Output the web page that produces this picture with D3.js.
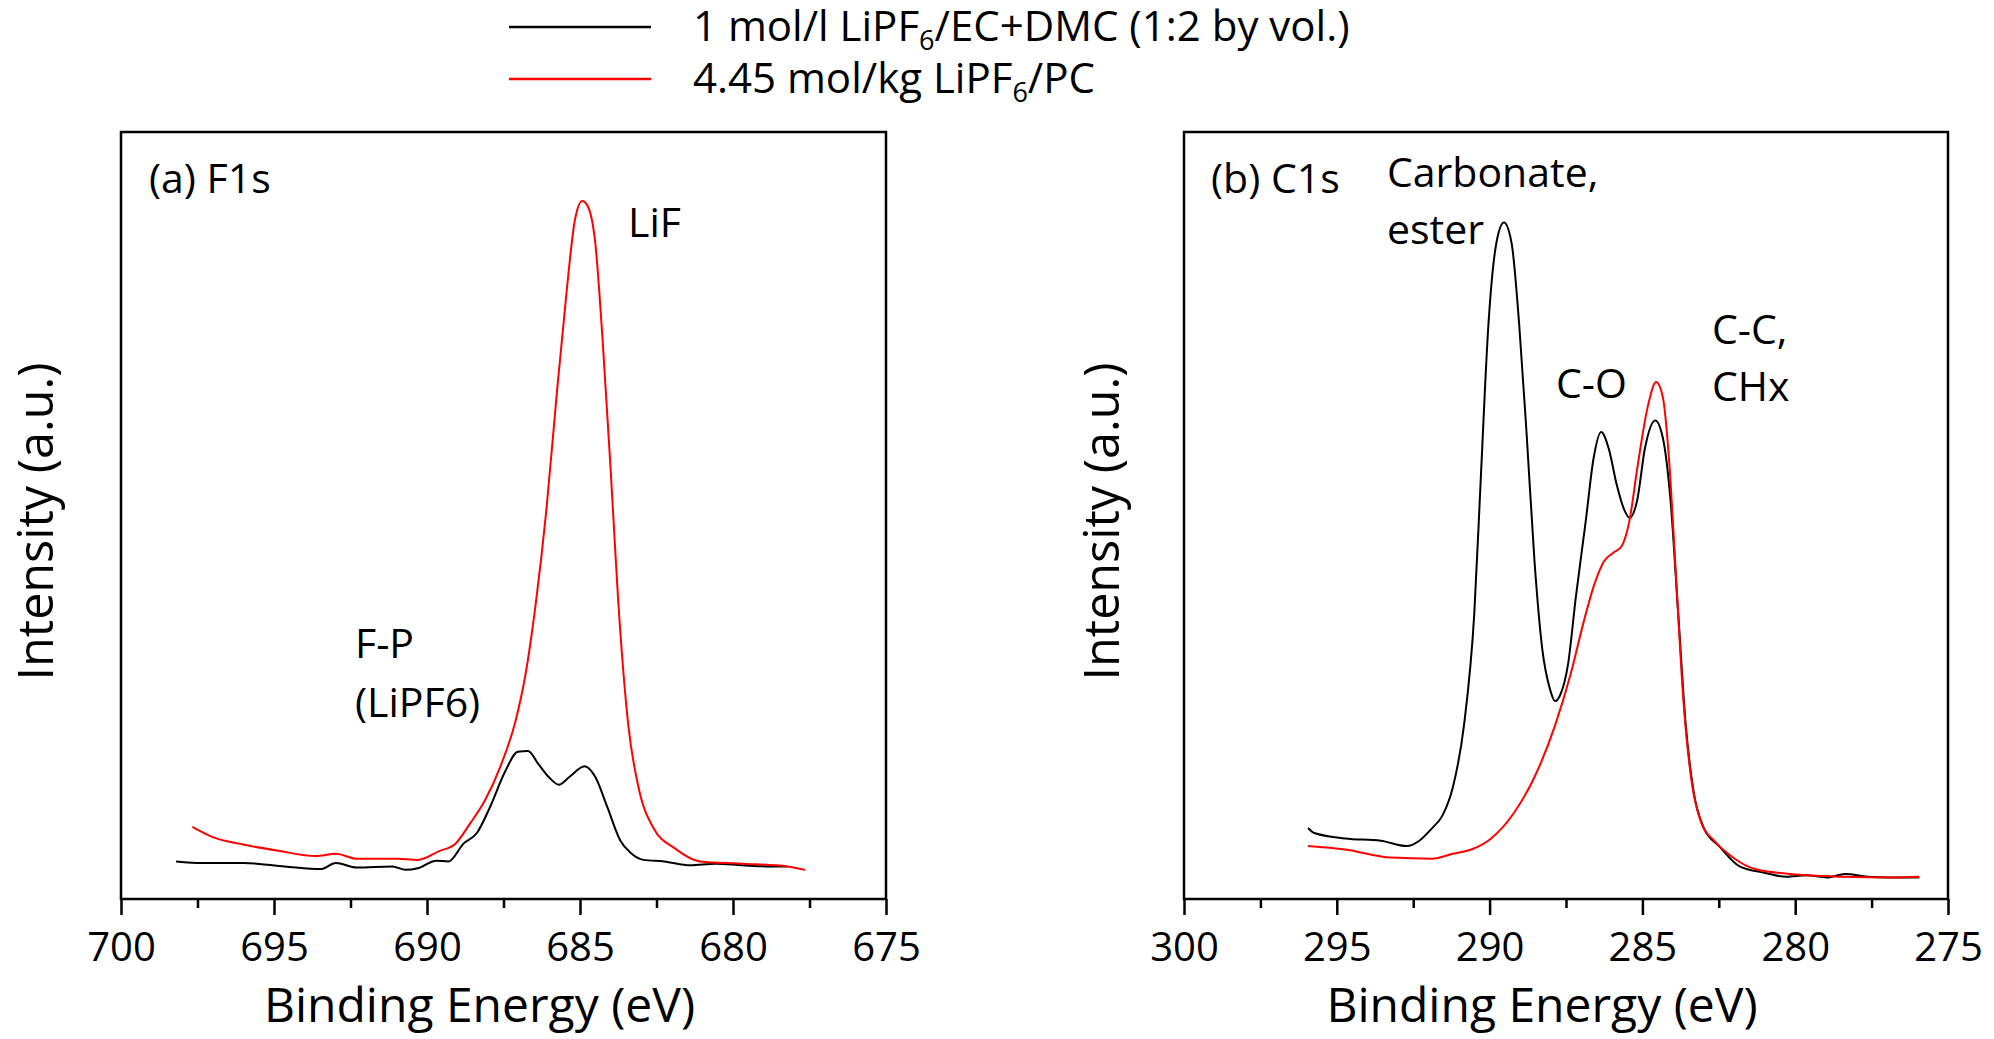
<!DOCTYPE html>
<html>
<head>
<meta charset="utf-8">
<script src="https://cdn.jsdelivr.net/npm/d3@7"></script>
<style>
  body { margin: 0; background: #fff; }
  svg text { font-family: "Open Sans", sans-serif; fill: #000; }
</style>
</head>
<body>
<div class="chart"></div>
<script>
// series: [binding energy (eV), intensity (a.u., 0-100 of frame height)]
var f1sEC = [
  [698.2, 4.9], [697.33, 4.7], [696.0, 4.7], [694.65, 4.25], [693.48, 3.9], [692.98, 4.7],
  [692.3, 4.1], [691.13, 4.25], [690.7, 3.8], [690.3, 4.0], [689.7, 5.0], [689.3, 4.9],
  [688.8, 7.25], [688.37, 8.6], [687.95, 11.9], [687.45, 16.6], [687.03, 19.2], [686.7, 19.3],
  [686.36, 17.6], [686.02, 15.9], [685.69, 14.9], [685.35, 15.9], [684.85, 17.3], [684.5, 15.9],
  [684.1, 11.9], [683.68, 7.6], [683.34, 6.0], [682.92, 5.1], [682.25, 4.9], [681.4, 4.4],
  [680.57, 4.6], [679.7, 4.4], [678.9, 4.25], [678.23, 4.25]
]
var f1sPC = [
  [697.67, 9.4], [697.0, 8.06], [696.0, 7.1], [694.8, 6.25], [693.65, 5.6], [692.98, 5.9],
  [692.3, 5.25], [690.97, 5.25], [690.3, 5.1], [689.6, 6.25], [689.1, 7.1], [688.6, 9.8],
  [688.1, 12.9], [687.6, 17.3], [687.1, 23.3], [686.78, 29.3], [686.44, 38.7], [686.1, 50.7],
  [685.77, 65.4], [685.43, 79.5], [685.18, 88.2], [684.93, 91.0], [684.77, 90.5], [684.5, 85.5],
  [684.26, 72.8], [684.0, 56.1], [683.76, 39.4], [683.42, 22.6], [683.09, 14.6], [682.6, 9.25],
  [681.9, 6.6], [681.08, 4.9], [679.7, 4.6], [678.23, 4.25], [677.64, 3.8]
]
var c1sEC = [
  [295.94, 9.25], [295.74, 8.6], [294.73, 7.9], [293.56, 7.6], [292.72, 6.9], [292.3, 7.6],
  [291.88, 9.25], [291.54, 10.9], [291.2, 14.6], [290.84, 22.6], [290.5, 37.3], [290.29, 54.7],
  [290.04, 74.8], [289.78, 85.5], [289.53, 88.2], [289.28, 85.5], [289.03, 74.8], [288.78, 60.1],
  [288.53, 44.0], [288.28, 32.7], [288.02, 27.3], [287.86, 25.8], [287.69, 26.6], [287.43, 30.7],
  [287.18, 39.3], [286.85, 49.4], [286.6, 57.4], [286.35, 60.9], [286.1, 58.7], [285.84, 54.0],
  [285.59, 50.7], [285.42, 49.7], [285.17, 52.0], [284.92, 58.7], [284.58, 62.4], [284.33, 60.1],
  [284.08, 52.0], [283.83, 37.3], [283.58, 22.6], [283.32, 13.9], [282.99, 9.25], [282.49, 6.9],
  [281.82, 4.25], [280.98, 3.4], [280.3, 2.9], [279.63, 3.1], [278.96, 2.8], [278.37, 3.25],
  [277.62, 2.9], [276.95, 2.8], [275.94, 2.8]
]
var c1sPC = [
  [295.94, 6.9], [294.73, 6.45], [293.23, 5.4], [291.88, 5.25], [291.2, 5.9], [290.6, 6.45],
  [289.95, 7.9], [289.2, 11.25], [288.53, 15.9], [287.86, 22.6], [287.35, 29.3], [286.93, 36.0],
  [286.6, 40.7], [286.26, 44.0], [285.93, 45.2], [285.68, 46.0], [285.42, 49.4], [285.17, 56.1],
  [284.83, 64.1], [284.55, 67.4], [284.33, 65.4], [284.13, 57.4], [283.91, 42.7], [283.66, 26.0],
  [283.41, 15.9], [283.07, 9.9], [282.65, 7.6], [281.98, 5.25], [281.31, 3.9], [280.14, 3.25],
  [278.46, 2.9], [276.78, 2.8], [275.94, 2.9]
]

var f1sTicks = [700, 695, 690, 685, 680, 675]
var c1sTicks = [300, 295, 290, 285, 280, 275]
var seriesNames = ['1 mol/l LiPF|6|/EC+DMC (1:2 by vol.)', '4.45 mol/kg LiPF|6|/PC']
var seriesColors = ['#000000', '#ff0000']

var svg = d3.select('.chart').append('svg')
    .attr('width', 1994)
    .attr('height', 1039)

var drawPanel = function(p) {
  var width = p.width, height = 767

  var x = d3.scaleLinear().domain(p.domain).range([0, width])
  var y = d3.scaleLinear().domain([0, 100]).range([height, 0])

  var g = svg.append('g')
      .attr('transform', 'translate(' + p.left + ',132)')

  var minor = []
  for (var i = 0; i < p.ticks.length - 1; i++) minor.push((p.ticks[i] + p.ticks[i + 1]) / 2)

  var ax = g.append('g')
      .attr('transform', 'translate(0,' + height + ')')
      .call(d3.axisBottom(x).tickValues(p.ticks).tickSize(16).tickSizeOuter(0).tickPadding(18)
        .tickFormat(d3.format('d')))
  ax.select('.domain').remove()
  ax.selectAll('line').attr('stroke-width', 2.5)
  ax.selectAll('text').attr('font-size', 40).attr('font-family', '"Open Sans", sans-serif')

  var axm = g.append('g')
      .attr('transform', 'translate(0,' + height + ')')
      .call(d3.axisBottom(x).tickValues(minor).tickSize(9).tickFormat(''))
  axm.select('.domain').remove()
  axm.selectAll('line').attr('stroke-width', 2.5)

  g.append('rect')
    .attr('width', width)
    .attr('height', height)
    .attr('fill', 'none')
    .attr('stroke', '#000')
    .attr('stroke-width', 2.5)

  var line = d3.line()
      .x(function(d) { return x(d[0]) })
      .y(function(d) { return y(d[1]) })
      .curve(d3.curveMonotoneX)

  p.series.forEach(function(s, k) {
    g.append('path')
      .datum(s)
      .attr('fill', 'none')
      .attr('stroke', seriesColors[k])
      .attr('stroke-width', 2)
      .attr('d', line)
  })

  g.append('text')
    .attr('x', width / 2 - 24)
    .attr('y', 890)
    .attr('text-anchor', 'middle')
    .attr('font-size', 48)
    .text('Binding Energy (eV)')

  g.append('text')
    .attr('transform', 'translate(' + p.ylabelX + ',' + (height / 2 + 6) + ') rotate(-90)')
    .attr('text-anchor', 'middle')
    .attr('font-size', 48.5)
    .text('Intensity (a.u.)')

  p.notes.forEach(function(n) {
    g.append('text')
      .attr('x', n[1] - p.left)
      .attr('y', n[2] - 132)
      .attr('font-size', 41)
      .text(n[0])
  })
}

drawPanel({
  left: 121, width: 765, domain: [700, 675], ticks: f1sTicks,
  series: [f1sEC, f1sPC], ylabelX: -68,
  notes: [['(a) F1s', 149, 193], ['LiF', 628, 237], ['F-P', 355, 658], ['(LiPF6)', 355, 717]]
})
drawPanel({
  left: 1184, width: 764, domain: [300, 275], ticks: c1sTicks,
  series: [c1sEC, c1sPC], ylabelX: -65,
  notes: [['(b) C1s', 1211, 193], ['Carbonate,', 1387, 187], ['ester', 1387, 244],
          ['C-O', 1556, 398], ['C-C,', 1712, 344], ['CHx', 1712, 401]]
})

// legend
var legend = svg.append('g')
seriesNames.forEach(function(name, k) {
  var ly = 27 + k * 52
  legend.append('line')
    .attr('x1', 509).attr('x2', 651)
    .attr('y1', ly).attr('y2', ly)
    .attr('stroke', seriesColors[k])
    .attr('stroke-width', 2.5)
  var parts = name.split('|')
  var t = legend.append('text')
    .attr('x', 693)
    .attr('y', ly + 14)
    .attr('font-size', 42)
  t.append('tspan').text(parts[0])
  t.append('tspan').attr('font-size', 27).attr('dy', 9).text(parts[1])
  t.append('tspan').attr('dy', -9).text(parts[2])
})
</script>
</body>
</html>
